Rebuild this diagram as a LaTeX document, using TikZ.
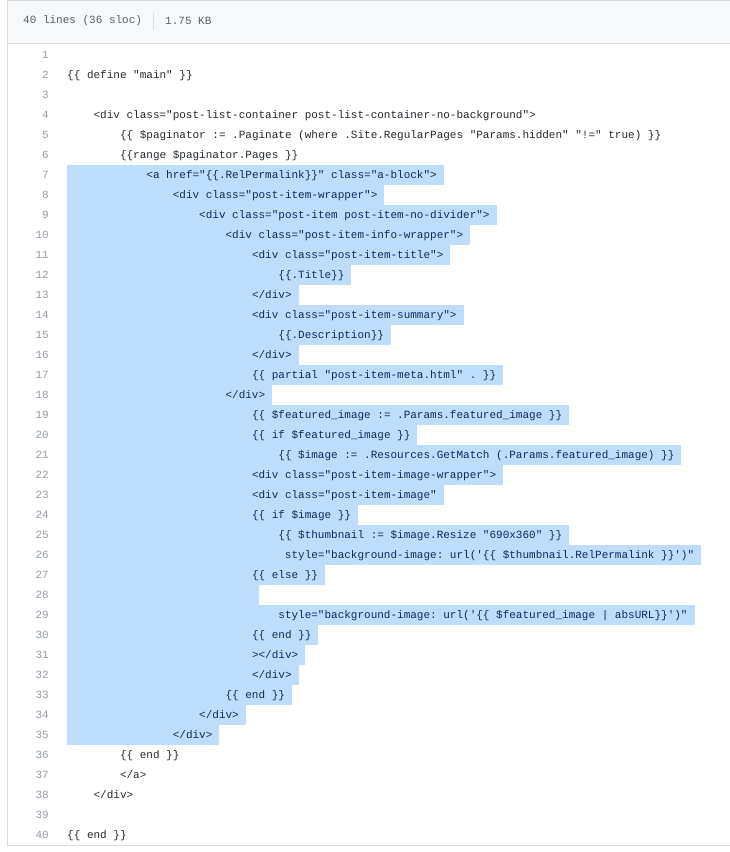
\documentclass[tikz,border=0pt]{standalone}
\usepackage{fontspec}
\setmonofont{Liberation Mono}
\definecolor{codefg}{HTML}{24292E}
\definecolor{hifg}{HTML}{0B2D5E}
\definecolor{hibg}{HTML}{BDDDFB}
\definecolor{numfg}{HTML}{959DA5}
\definecolor{hdrbg}{HTML}{F6F8FA}
\definecolor{bordc}{HTML}{D8DDE2}
\definecolor{hdrfg}{HTML}{586069}
\newlength\cw \setlength\cw{6.6pt}
\tikzset{
  codebase/.style={anchor=west,inner xsep=0pt,inner ysep=4pt,text height=9pt,text depth=3pt,font=\ttfamily\fontsize{11pt}{13pt}\selectfont},
  codetxt/.style={codebase,text=codefg},
  hitxt/.style={codebase,text=hifg,fill=hibg},
  numtxt/.style={anchor=east,inner sep=0pt,text=numfg,font=\ttfamily\fontsize{11pt}{13pt}\selectfont},
}
\newcommand\lnum[1]{\node[numtxt] (N#1) at (49pt,{-55pt-20pt*(#1-1)}) {#1};}
\newcommand\codeln[3]{\lnum{#1}\node[codetxt] (L#1) at (67pt,{-55pt-20pt*(#1-1)}) {\hspace*{#2\cw}#3};}
\newcommand\hiln[3]{\lnum{#1}\node[hitxt] (L#1) at (67pt,{-55pt-20pt*(#1-1)}) {\hspace*{#2\cw}#3\hspace*{7pt}};}
\begin{document}
\begin{tikzpicture}
\useasboundingbox (0,0) rectangle (730pt,-852pt);
\fill[white] (0,0) rectangle (730pt,-852pt);
\fill[hdrbg] (7pt,0pt) rectangle (731pt,-43pt);
\draw[bordc,line width=0.8pt] (731pt,-845pt) -- (7.4pt,-845pt) -- (7.4pt,-0.4pt) -- (731pt,-0.4pt);
\draw[bordc,line width=0.8pt] (7.4pt,-43pt) -- (731pt,-43pt);
\node[anchor=west,inner sep=0pt,text=hdrfg,font=\ttfamily\fontsize{11pt}{13pt}\selectfont] (h1) at (23pt,-21pt) {40 lines (36 sloc)};
\draw[bordc,line width=0.8pt] (153pt,-13pt) -- (153pt,-30pt);
\node[anchor=west,inner sep=0pt,text=hdrfg,font=\ttfamily\fontsize{11pt}{13pt}\selectfont] (h2) at (165pt,-21pt) {1.75 KB};
\codeln{1}{0}{}
\codeln{2}{0}{\{\{ define "main" \}\}}
\codeln{3}{0}{}
\codeln{4}{4}{<div class="post-list-container post-list-container-no-background">}
\codeln{5}{8}{\{\{ \$paginator := .Paginate (where .Site.RegularPages "Params.hidden" "!=" true) \}\}}
\codeln{6}{8}{\{\{range \$paginator.Pages \}\}}
\hiln{7}{12}{<a href="\{\{.RelPermalink\}\}" class="a-block">}
\hiln{8}{16}{<div class="post-item-wrapper">}
\hiln{9}{20}{<div class="post-item post-item-no-divider">}
\hiln{10}{24}{<div class="post-item-info-wrapper">}
\hiln{11}{28}{<div class="post-item-title">}
\hiln{12}{32}{\{\{.Title\}\}}
\hiln{13}{28}{</div>}
\hiln{14}{28}{<div class="post-item-summary">}
\hiln{15}{32}{\{\{.Description\}\}}
\hiln{16}{28}{</div>}
\hiln{17}{28}{\{\{ partial "post-item-meta.html" . \}\}}
\hiln{18}{24}{</div>}
\hiln{19}{28}{\{\{ \$featured\_image := .Params.featured\_image \}\}}
\hiln{20}{28}{\{\{ if \$featured\_image \}\}}
\hiln{21}{32}{\{\{ \$image := .Resources.GetMatch (.Params.featured\_image) \}\}}
\hiln{22}{28}{<div class="post-item-image-wrapper">}
\hiln{23}{28}{<div class="post-item-image"}
\hiln{24}{28}{\{\{ if \$image \}\}}
\hiln{25}{32}{\{\{ \$thumbnail := \$image.Resize "690x360" \}\}}
\hiln{26}{33}{style="background-image: url('\{\{ \$thumbnail.RelPermalink \}\}')"}
\hiln{27}{28}{\{\{ else \}\}}
\hiln{28}{28}{}
\hiln{29}{32}{style="background-image: url('\{\{ \$featured\_image | absURL\}\}')"}
\hiln{30}{28}{\{\{ end \}\}}
\hiln{31}{28}{></div>}
\hiln{32}{28}{</div>}
\hiln{33}{24}{\{\{ end \}\}}
\hiln{34}{20}{</div>}
\hiln{35}{16}{</div>}
\codeln{36}{8}{\{\{ end \}\}}
\codeln{37}{8}{</a>}
\codeln{38}{4}{</div>}
\codeln{39}{0}{}
\codeln{40}{0}{\{\{ end \}\}}
\end{tikzpicture}
\end{document}
